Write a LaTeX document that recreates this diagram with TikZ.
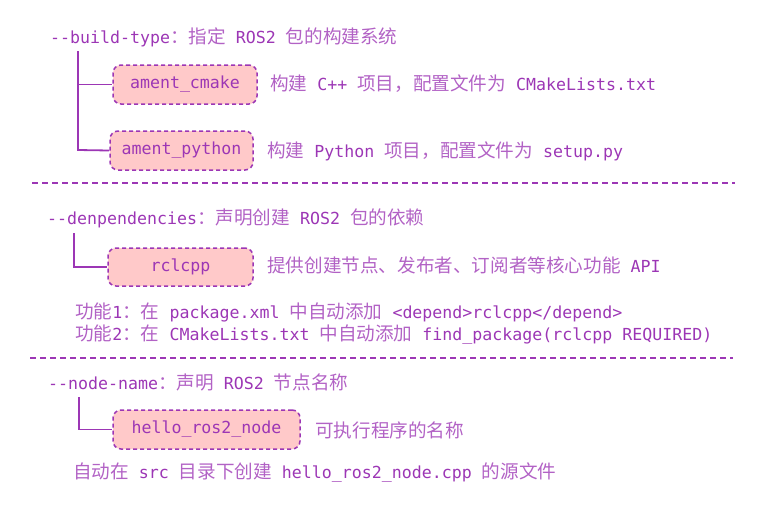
\documentclass[tikz,border=0pt]{standalone}
\usepackage{fontspec}
\setmainfont{DejaVu Sans Mono}
\newfontfamily\cjkf{Noto Sans CJK SC}
\definecolor{vio}{HTML}{9C36B5}
\definecolor{boxfill}{HTML}{FFC9C9}
\colorlet{viozh}{vio!78}
\newcommand{\zh}[1]{{\cjkf\fontsize{18.6}{20}\selectfont\color{viozh}#1}}
\newcommand{\dd}{-{}-}
\begin{document}
\begin{tikzpicture}[x=1pt,y=-1pt,
  txt/.style={anchor=west,inner sep=0pt,text=vio,font=\fontsize{16.6}{20}\selectfont},
  opt/.style={draw=vio,fill=boxfill,dash pattern=on 4pt off 3pt,line width=1.5pt,rounded corners=8pt,inner sep=0pt,text=vio,font=\fontsize{16.6}{20}\selectfont},
  tree/.style={draw=vio,line width=1.8pt},
  sep/.style={draw=vio,line width=2.5pt,dash pattern=on 6pt off 4pt}]
\useasboundingbox (0,0) rectangle (776,520);
% section 1
\node[txt] (t1) at (50,37) {\dd build-type\zh{：指定} ROS2 \zh{包的构建系统}};
\node[opt,minimum width=144pt,minimum height=39pt] (b1) at (185,84.5) {ament\_cmake};
\node[opt,minimum width=143pt,minimum height=39pt] (b2) at (181.5,150.5) {ament\_python};
\node[txt] (l1) at (270,84) {\zh{构建} C++ \zh{项目，配置文件为} CMakeLists.txt};
\node[txt] (l2) at (267,151) {\zh{构建} Python \zh{项目，配置文件为} setup.py};
\coordinate (v1a) at (78,51);
\coordinate (v1b) at (78,150);
\draw[tree] (v1a) -- (v1b) -- (b2.west);
\draw[tree] (v1a |- b1.west) -- (b1.west);
\coordinate (s1a) at (32,183);
\coordinate (s1b) at (735,183);
\draw[sep] (s1a) -- (s1b);
% section 2
\node[txt] (t2) at (47,218) {\dd denpendencies\zh{：声明创建} ROS2 \zh{包的依赖}};
\node[opt,minimum width=145pt,minimum height=38pt] (b3) at (180.5,267) {rclcpp};
\node[txt] (l3) at (267,265) {\zh{提供创建节点、发布者、订阅者等核心功能} API};
\coordinate (v2a) at (74,233);
\draw[tree] (v2a) -- (v2a |- b3.west) -- (b3.west);
\node[txt] (f1) at (75,312) {\zh{功能}1\zh{：在} package.xml \zh{中自动添加} <depend>rclcpp</depend>};
\node[txt] (f2) at (75,335) {\zh{功能}2\zh{：在} CMakeLists.txt \zh{中自动添加} find\_package(rclcpp REQUIRED)};
\coordinate (s2a) at (30,358);
\coordinate (s2b) at (733,358);
\draw[sep] (s2a) -- (s2b);
% section 3
\node[txt] (t3) at (48,382) {\dd node-name\zh{：声明} ROS2 \zh{节点名称}};
\node[opt,minimum width=187pt,minimum height=39pt] (b4) at (206.5,429.5) {hello\_ros2\_node};
\node[txt] (l4) at (315,430) {\zh{可执行程序的名称}};
\coordinate (v3a) at (79,397);
\draw[tree] (v3a) -- (v3a |- b4.west) -- (b4.west);
\node[txt] (l5) at (73,473) {\zh{自动在} src \zh{目录下创建} hello\_ros2\_node.cpp \zh{的源文件}};
\end{tikzpicture}
\end{document}
